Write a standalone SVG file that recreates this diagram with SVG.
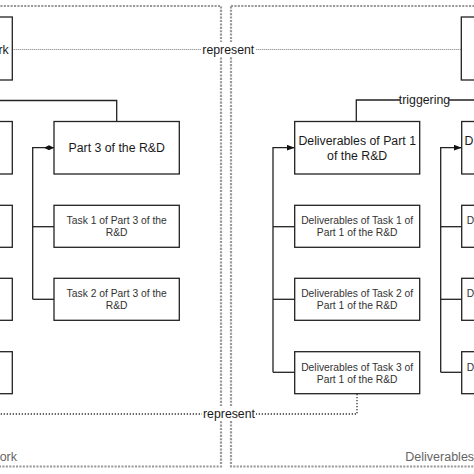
<svg xmlns="http://www.w3.org/2000/svg" width="474" height="474" viewBox="0 0 474 474">
<style>
.cont{fill:none;stroke:#999;stroke-width:2.2;stroke-dasharray:2.1 1.3}
.box{fill:#fff;stroke:#222;stroke-width:1.3}
.t12{font-family:"Liberation Sans",Arial,sans-serif;font-size:12.3px;fill:#1a1a1a;text-anchor:middle}
.t10{font-family:"Liberation Sans",Arial,sans-serif;font-size:10.3px;fill:#333;text-anchor:middle}
.lbl{font-family:"Liberation Sans",Arial,sans-serif;font-size:12.3px;fill:#1a1a1a;text-anchor:middle}
.clbl{font-family:"Liberation Sans",Arial,sans-serif;font-size:12.5px;fill:#666}
.conn{fill:none;stroke:#222;stroke-width:1.3}
.bg{fill:#fff}
</style>
<defs>
<marker id="diamond" viewBox="0 0 10 5" refX="10" refY="2.5" markerWidth="10" markerHeight="5" markerUnits="userSpaceOnUse" orient="auto">
<path d="M0 2.5 L5 0 L10 2.5 L5 5 Z" fill="#111"/>
</marker>
<marker id="block" viewBox="0 0 8 6" refX="8" refY="3" markerWidth="8" markerHeight="6" markerUnits="userSpaceOnUse" orient="auto">
<path d="M0 0 L8 3 L0 6 Z" fill="#111"/>
</marker>
<marker id="open" viewBox="0 0 8 8" refX="0.5" refY="4" markerWidth="8" markerHeight="8" markerUnits="userSpaceOnUse" orient="auto-start-reverse">
<path d="M7.5 0.8 L0.5 4 L7.5 7.2" fill="none" stroke="#777" stroke-width="1"/>
</marker>
</defs>
<rect width="474" height="474" fill="#fff"/>
<g id="containers">
<rect class="cont" x="-20" y="6" width="241" height="460.5"/>
<rect class="cont" x="231" y="6" width="270" height="460.5"/>
<text class="clbl" x="17" y="461" text-anchor="end">ork</text>
<text class="clbl" x="405.3" y="461">Deliverables</text>
</g>
<g id="connectors">
<path class="conn" d="M0 100.5 H116.7 V121.5"/>
<path class="conn" d="M32.7 299.3 V147.7 H54" marker-end="url(#diamond)"/>
<path class="conn" d="M32.7 226.7 H54"/>
<path class="conn" d="M32.7 299.3 H54"/>
<path class="conn" d="M273 372.3 V147.7 H294.7" marker-end="url(#block)"/>
<path class="conn" d="M273 226.7 H294.7"/>
<path class="conn" d="M273 299.3 H294.7"/>
<path class="conn" d="M273 372.3 H294.7"/>
<path class="conn" d="M440.7 372.3 V147.7 H461.7" marker-end="url(#block)"/>
<path class="conn" d="M440.7 226.7 H461.7"/>
<path class="conn" d="M440.7 299.3 H461.7"/>
<path class="conn" d="M440.7 372.3 H461.7"/>
<path class="conn" d="M480 100 H356.3 V121.5"/>
<rect class="bg" x="400" y="93" width="49" height="14"/>
<text class="lbl" x="424.5" y="104">triggering</text>
<path d="M461.3 49.5 H12.8" fill="none" stroke="#777" stroke-width="1" stroke-dasharray="1 1" marker-end="url(#open)"/>
<rect class="bg" x="201" y="42" width="55" height="15"/>
<text class="lbl" x="228.3" y="54.3">represent</text>
<path d="M357 394 V414 H0" fill="none" stroke="#333" stroke-width="1.3" stroke-dasharray="1.3 1.7"/>
<rect class="bg" x="202" y="406" width="54" height="15"/>
<text class="lbl" x="229" y="418">represent</text>
</g>
<g id="node-top-left">
<rect class="box" x="-100" y="17" width="112.3" height="63"/>
<text class="t12" x="-1.5" y="54" style="text-anchor:start">rk</text>
</g>
<g id="node-left-1"><rect class="box" x="-100" y="121.5" width="112.3" height="52.5"/></g>
<g id="node-left-2"><rect class="box" x="-100" y="205.3" width="112.3" height="42"/></g>
<g id="node-left-3"><rect class="box" x="-100" y="278.3" width="112.3" height="42"/></g>
<g id="node-left-4"><rect class="box" x="-100" y="351.7" width="112.3" height="42"/></g>
<g id="node-part3">
<rect class="box" x="54" y="121.5" width="125.3" height="52.5"/>
<text class="t12" x="116.7" y="152">Part 3 of the R&amp;D</text>
</g>
<g id="node-task1-part3">
<rect class="box" x="54" y="205.3" width="125.3" height="42"/>
<text class="t10" x="116.7" y="224">Task 1 of Part 3 of the</text>
<text class="t10" x="116.7" y="236.3">R&amp;D</text>
</g>
<g id="node-task2-part3">
<rect class="box" x="54" y="278.3" width="125.3" height="42"/>
<text class="t10" x="116.7" y="297">Task 2 of Part 3 of the</text>
<text class="t10" x="116.7" y="309.3">R&amp;D</text>
</g>
<g id="node-top-right">
<rect class="box" x="461.3" y="17" width="100" height="63"/>
</g>
<g id="node-deliv-part1">
<rect class="box" x="294.7" y="121.5" width="125" height="52.5"/>
<text class="t12" x="357.2" y="144.5">Deliverables of Part 1</text>
<text class="t12" x="357.2" y="159.5">of the R&amp;D</text>
</g>
<g id="node-deliv-task1">
<rect class="box" x="294.7" y="205.3" width="125" height="42"/>
<text class="t10" x="357.2" y="224">Deliverables of Task 1 of</text>
<text class="t10" x="357.2" y="236.3">Part 1 of the R&amp;D</text>
</g>
<g id="node-deliv-task2">
<rect class="box" x="294.7" y="278.3" width="125" height="42"/>
<text class="t10" x="357.2" y="297">Deliverables of Task 2 of</text>
<text class="t10" x="357.2" y="309.3">Part 1 of the R&amp;D</text>
</g>
<g id="node-deliv-task3">
<rect class="box" x="294.7" y="351.7" width="125" height="42"/>
<text class="t10" x="357.2" y="370.5">Deliverables of Task 3 of</text>
<text class="t10" x="357.2" y="382.8">Part 1 of the R&amp;D</text>
</g>
<g id="node-right-0">
<rect class="box" x="461.7" y="121.5" width="60" height="52.5"/>
<text class="t12" x="464.5" y="144.5" style="text-anchor:start">D</text>
</g>
<g id="node-right-1">
<rect class="box" x="461.7" y="205.3" width="60" height="42"/>
<text class="t10" x="466.7" y="224" style="text-anchor:start">D</text>
</g>
<g id="node-right-2">
<rect class="box" x="461.7" y="278.3" width="60" height="42"/>
<text class="t10" x="466.7" y="297" style="text-anchor:start">D</text>
</g>
<g id="node-right-3">
<rect class="box" x="461.7" y="351.7" width="60" height="42"/>
<text class="t10" x="466.7" y="370.5" style="text-anchor:start">D</text>
</g>
</svg>
